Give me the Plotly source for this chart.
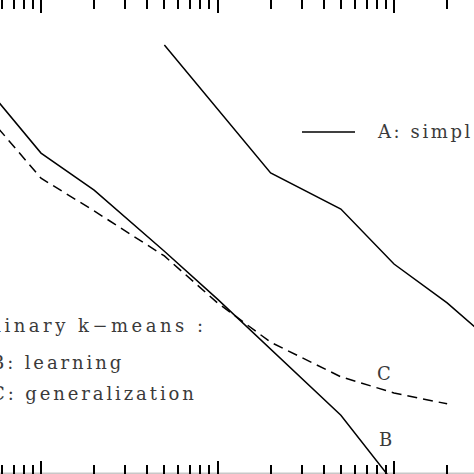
import plotly.graph_objects as go
import math

# Data (x on log scale; y in arbitrary error units)
x_A = [50, 200, 500, 1000, 2000, 5000]
y_A = [9.05, 6.35, 5.59, 4.43, 3.61, 2.32]

x_B = [5, 10, 20, 50, 100, 200, 500, 1000]
y_B = [8.12, 6.77, 5.99, 4.70, 3.69, 2.64, 1.24, -0.19]

x_C = [5, 10, 20, 50, 100, 200, 500, 1000, 2000]
y_C = [7.55, 6.24, 5.55, 4.60, 3.61, 2.78, 2.05, 1.71, 1.48]

major_ticks = [10, 100, 1000]
minor_ticks = [6, 7, 8, 9, 20, 30, 40, 50, 60, 70, 80, 90,
               200, 300, 400, 500, 600, 700, 800, 900, 2000]

W = H = 474
dec = 176.5
x0 = math.log10(10) - 41 / dec
x1 = math.log10(10) + (W - 41) / dec

fig = go.Figure()
line = dict(color="black", width=1.5)
fig.add_trace(go.Scatter(x=x_A, y=y_A, mode="lines", line=line, showlegend=False))
fig.add_trace(go.Scatter(x=x_B, y=y_B, mode="lines", line=line, showlegend=False))
fig.add_trace(go.Scatter(x=x_C, y=y_C, mode="lines",
                         line=dict(color="black", width=1.5, dash="10px,6px"),
                         showlegend=False))

font = dict(family="DejaVu Serif", size=18, color="#3a3a3a")

def px(x): return x / W
def py(y): return 1 - y / H

def spaced(t, s=2.9):
    return '<span style="letter-spacing:%.1fpx">' % s + t + '</span>'

ann = [
    dict(text=spaced("A: simpl", 2.6), x=px(375), y=py(131), xanchor="left", yanchor="middle"),
    dict(text=spaced("ordinary k−means :", 3.5), x=px(209), y=py(325), xanchor="right", yanchor="middle"),
    dict(text=spaced("B: learning"), x=px(126), y=py(362), xanchor="right", yanchor="middle"),
    dict(text=spaced("C: generalization"), x=px(199), y=py(393), xanchor="right", yanchor="middle"),
    dict(text="C", x=px(384), y=py(373), xanchor="center", yanchor="middle"),
    dict(text="B", x=px(385), y=py(439), xanchor="center", yanchor="middle"),
]
for a in ann:
    fig.add_annotation(xref="paper", yref="paper", showarrow=False, font=font, **a)

fig.add_shape(type="line", xref="paper", yref="paper",
              x0=px(302), x1=px(355), y0=py(132), y1=py(132),
              line=dict(color="black", width=1.5))
fig.add_shape(type="line", xref="paper", yref="paper",
              x0=0, x1=1, y0=0, y1=0, layer="below",
              line=dict(color="#c8c8c8", width=3))

fig.update_layout(
    width=W, height=H,
    margin=dict(l=0, r=0, t=0, b=0),
    paper_bgcolor="white", plot_bgcolor="white",
    xaxis=dict(type="log", range=[x0, x1], showgrid=False, zeroline=False,
               tickvals=major_ticks, ticks="inside", ticklen=13, tickwidth=2,
               tickcolor="black", showticklabels=False, mirror="ticks",
               showline=False,
               minor=dict(tickvals=minor_ticks, ticks="inside", ticklen=9,
                          tickwidth=1.5, tickcolor="black", showgrid=False)),
    yaxis=dict(range=[0, 10], visible=False),
)

fig.write_html("out.html", config={"displayModeBar": False},
               post_script="document.body.style.margin='0';")
